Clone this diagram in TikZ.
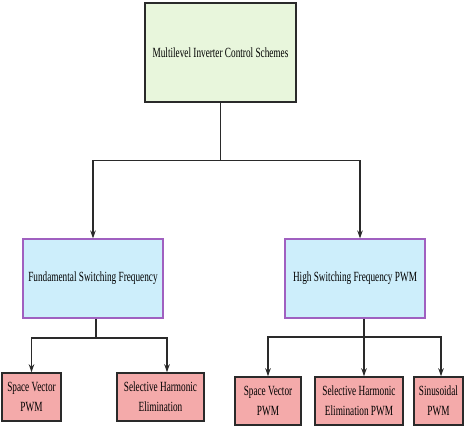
\documentclass[tikz,border=0pt]{standalone}
\usepackage{fontspec}
\setmainfont{Liberation Serif}[FakeStretch=0.66]
\usetikzlibrary{arrows.meta}
\definecolor{topfill}{HTML}{E8F6DC}
\definecolor{midfill}{HTML}{CDEEFB}
\definecolor{midedge}{HTML}{A060C0}
\definecolor{botfill}{HTML}{F4AAAA}
\definecolor{edgegray}{HTML}{2A2A2A}
\tikzset{
  box/.style={rectangle, inner sep=0pt, align=center, text=black, font=\fontsize{14}{20}\selectfont},
  topbox/.style={box, fill=topfill, draw=edgegray, line width=1.3pt},
  midbox/.style={box, fill=midfill, draw=midedge, line width=1.1pt},
  botbox/.style={box, fill=botfill, draw=edgegray, line width=1.5pt},
  conn/.style={draw=edgegray, line width=1.3pt},
  arr/.style={conn, -{Stealth[length=8pt,width=5.5pt]}},
}
\begin{document}
\begin{tikzpicture}[x=1pt,y=-1pt]
\useasboundingbox (0,0) rectangle (474,429);
\node[topbox, minimum width=151pt, minimum height=99pt] (top) at (220.5,52.5) {Multilevel Inverter Control Schemes};
\node[midbox, minimum width=140pt, minimum height=79pt] (m1) at (93,278.5) {Fundamental Switching Frequency};
\node[midbox, minimum width=140pt, minimum height=79pt] (m2) at (355,278.5) {High Switching Frequency PWM};
\node[botbox, minimum width=59pt, minimum height=48pt] (b1) at (31.5,397) {Space Vector\\PWM};
\node[botbox, minimum width=87pt, minimum height=48pt] (b2) at (160.5,397) {Selective Harmonic\\Elimination};
\node[botbox, minimum width=66pt, minimum height=48pt] (b3) at (268,401) {Space Vector\\PWM};
\node[botbox, minimum width=88pt, minimum height=48pt] (b4) at (359,401) {Selective Harmonic\\Elimination PWM};
\node[botbox, minimum width=49pt, minimum height=48pt] (b5) at (438.5,401) {Sinusoidal\\PWM};
% top split
\coordinate (j1) at (220.5,160.7);
\draw[conn] (top.south) -- (j1);
\draw[arr] (j1) -| (m1.north);
\draw[arr] (j1) -| ([xshift=5pt]m2.north);
% left split
\coordinate (j2) at (96,338);
\draw[conn] ([xshift=3pt]m1.south) -- (j2);
\draw[arr] (j2) -| (b1.north);
\draw[arr] (j2) -| ([xshift=6.5pt]b2.north);
% right split
\coordinate (j3) at (364,337);
\draw[conn] ([xshift=9pt]m2.south) -- (j3);
\draw[arr] (j3) -| (b3.north);
\draw[arr] (j3) -- (b4.north -| j3);
\draw[arr] (j3) -| ([xshift=2.5pt]b5.north);
\end{tikzpicture}
\end{document}
